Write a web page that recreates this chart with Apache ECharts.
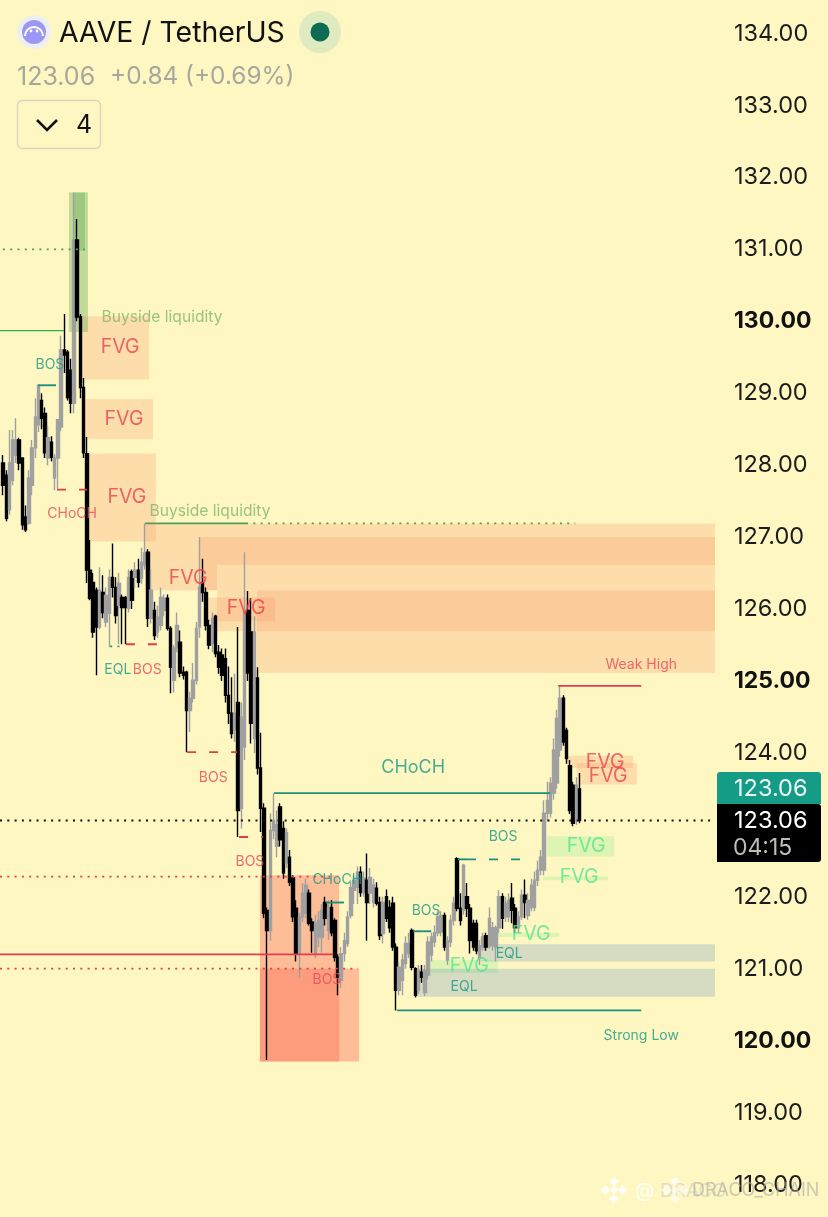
<!DOCTYPE html>
<html><head><meta charset="utf-8">
<style>html,body{margin:0;padding:0;background:#FEF7C2}#c{width:828px;height:1217px}</style>
<script src="https://cdn.jsdelivr.net/npm/echarts@6/dist/echarts.min.js"></script>
</head><body><div id="c"></div>
<script>
// OHLC rows: open, close, low, high
const candles = [
[128.03,127.72,127.58,128.14],[127.86,127.26,127.22,127.93],[127.38,128.03,127.31,128.49],[127.79,128.35,127.72,128.49],[128.14,128.35,128.03,128.65],
[128.35,128.03,127.93,128.38],[128.10,127.17,127.10,128.11],[127.28,127.10,127.07,127.44],[127.19,127.82,127.17,127.93],[127.72,128.24,127.58,128.35],
[128.24,128.67,128.10,128.93],[128.56,129.11,128.46,129.11],[128.90,128.65,128.50,129.00],[128.72,128.17,128.10,128.80],[128.10,128.38,128.00,128.55],
[128.32,128.11,128.05,128.40],[127.82,128.10,127.65,128.15],[128.10,128.63,127.67,128.63],[128.53,129.60,128.47,129.80],[129.60,129.53,129.28,130.10],
[129.57,128.94,128.90,129.60],[129.32,128.86,128.72,129.48],[128.86,131.13,128.72,131.79],[131.13,130.06,130.00,131.42],[130.06,129.08,128.93,130.10],
[129.08,128.17,128.10,129.21],
[128.16,126.54,126.36,128.39],[126.54,126.15,126.12,126.96],[126.37,125.68,125.60,126.50],[126.26,125.75,125.08,126.30],[125.75,126.26,125.72,126.58],
[126.23,125.95,125.87,126.47],[125.82,126.19,125.75,126.30],[125.94,126.44,125.47,126.55],[126.44,126.30,126.16,126.91],[126.30,125.91,125.80,126.44],
[126.05,126.36,125.51,126.50],[126.16,126.02,125.51,126.20],[126.16,126.02,125.51,126.18],[126.01,126.44,125.95,126.55],[126.52,126.12,126.00,126.55],
[126.44,126.54,126.30,126.65],[126.54,126.37,126.30,126.70],[126.43,126.65,126.35,126.85],[126.61,126.78,126.55,127.19],[126.79,125.87,125.75,126.83],
[125.87,126.26,125.80,126.55],[125.98,125.63,125.57,126.10],[125.68,125.89,125.60,126.05],[125.77,126.16,125.70,126.30],[125.98,126.15,125.90,126.20],
[126.15,125.73,125.70,126.20],[125.73,125.19,124.83,125.76],[125.01,125.46,124.84,125.50],[125.46,125.77,125.40,125.95],[125.54,125.11,125.05,125.70],
[125.12,125.08,125.02,125.20],[125.12,124.59,124.01,125.14],[124.59,124.76,124.29,124.85],[124.76,125.01,124.70,125.25],[125.01,125.73,124.95,125.82],
[125.75,126.30,125.60,127.00],[126.37,126.23,126.10,126.70],[126.23,125.77,125.70,126.30],[125.77,125.50,125.44,125.85],[125.52,125.87,125.40,125.95],
[125.90,125.38,125.33,125.92],[125.40,125.19,125.10,125.50],[125.36,125.08,125.00,125.45],[125.31,124.80,124.70,125.45],[124.80,124.55,124.40,125.20],
[124.55,124.27,124.20,125.05],[124.32,124.55,124.15,125.10],[124.70,123.20,122.83,125.75],[123.23,124.50,122.95,124.70],[124.08,125.96,123.90,126.79],
[125.98,125.11,125.00,126.25],[125.68,124.41,124.13,126.15],[124.20,125.68,124.00,125.90],[125.04,123.79,123.70,125.19],[123.79,123.23,122.90,124.28],
[123.23,121.77,121.70,123.30],[121.81,121.53,119.73,121.85],[121.53,122.92,121.39,123.16],[122.92,123.06,122.80,123.44],[122.70,123.00,122.55,123.20],
[123.25,122.79,122.70,123.30],[122.95,122.33,122.25,123.05],[122.47,122.89,122.40,122.95],[122.55,122.20,122.15,122.65],[122.26,121.72,121.65,122.30],
[121.84,121.21,121.10,121.95],[121.21,121.72,120.87,121.78],[121.72,122.05,121.65,122.19],[121.77,122.16,121.70,122.25],[122.05,121.63,121.60,122.10],
[121.65,121.53,121.22,121.70],[121.21,121.63,121.15,121.75],[121.44,121.67,121.30,121.80],[121.44,121.81,121.22,121.90],[121.92,121.70,121.60,122.00],
[121.53,121.85,121.40,121.95],[121.85,121.50,121.45,121.95],[121.67,121.16,121.10,121.70],[121.16,120.88,120.63,121.20],[120.84,121.21,120.73,121.30],
[121.21,121.39,121.10,121.50],[121.35,121.72,121.30,121.80],[121.74,122.13,121.70,122.20],[122.09,122.23,121.90,122.30],[122.13,122.34,121.90,122.42],
[122.34,122.06,122.00,122.42],[122.06,122.26,122.00,122.35],[122.23,121.92,121.39,122.60],[122.05,122.27,121.90,122.40],[121.92,122.16,121.85,122.25],
[122.12,121.91,121.88,122.20],[121.92,121.46,121.40,122.00],[121.49,121.92,121.35,122.00],[122.00,121.70,121.65,122.10],[121.85,121.57,121.50,121.95],
[121.91,121.30,121.25,122.00],[121.30,120.70,120.42,121.35],[120.70,121.02,120.63,121.10],[120.84,121.12,120.63,121.20],[121.07,121.35,121.00,121.45],
[121.21,121.35,121.15,121.50],[121.53,121.02,120.98,121.56],
[121.00,120.63,120.60,121.02],[120.70,120.98,120.65,121.05],[120.95,120.88,120.80,121.05],[120.67,120.98,120.62,121.05],[120.91,121.37,120.85,121.45],
[121.19,121.44,121.10,121.50],[121.37,121.50,121.30,121.60],[121.50,121.72,121.45,121.80],[121.51,121.74,121.45,121.80],[121.74,121.30,121.25,121.78],
[121.12,121.39,121.05,121.45],[121.37,121.67,121.30,121.75],[121.67,121.91,121.60,122.00],[122.53,121.84,121.80,122.55],[121.84,121.67,121.60,122.05],
[121.81,122.44,121.75,122.46],[122.00,121.84,121.72,122.19],[121.84,121.39,121.21,121.90],[121.63,121.30,121.25,121.68],[121.63,121.25,121.20,121.68],
[121.14,121.32,121.05,121.40],[121.30,121.44,121.25,121.50],[121.46,121.30,121.25,121.50],[121.32,121.70,121.28,121.85],[121.32,121.57,121.25,121.65],
[121.30,121.57,121.10,121.60],[121.57,122.00,121.50,122.09],[122.00,121.70,121.55,122.05],[121.72,121.91,121.65,122.00],[121.72,121.95,121.65,122.05],
[121.98,121.81,121.63,122.19],[121.84,121.57,121.50,121.90],[121.57,121.72,121.50,121.80],[121.72,122.02,121.68,122.10],[122.02,121.92,121.70,122.24],
[121.74,121.95,121.68,122.05],[121.85,122.16,121.80,122.25],[121.85,122.23,121.80,122.35],[122.23,122.37,122.15,122.50],[122.37,122.55,122.30,122.65],
[122.37,123.16,122.30,123.34],[123.16,123.34,123.05,123.60],[123.16,123.58,123.10,123.66],[123.44,124.04,123.35,124.20],[123.58,124.48,123.50,124.60],
[124.04,124.76,123.95,124.93],[124.76,124.15,124.10,124.80],[124.31,123.92,123.85,124.35],[123.82,123.20,123.15,123.90],[123.55,123.02,122.98,123.60],
[123.06,123.55,123.00,123.66],[123.50,123.06,123.02,123.72]
];
const barCount = 222;
const priceTicks = [118,134];

// zones: first bar, last bar, top price, bottom price
const zonesSupply = [[24.7,45.8,130.07,129.19],[25.6,47,128.92,128.36],[26.5,47.9,128.16,126.94],[44.5,221.5,127.19,126.61],[61.6,221.5,127.0,126.26],[79.3,221.5,126.26,125.11],[66.9,221.5,126.26,125.69],[44.5,66.9,126.61,126.26],[64.1,84.9,126.16,125.83],[175.6,196.1,123.96,123.79],[178.6,197.3,123.86,123.56]];
const zonesDemand = [[80.2,104.8,122.3,119.71],[80.2,111,121.0,119.71]];
const zonesLiquidity = [[20.9,26.8,131.79,129.85],[22.2,25.9,131.79,130.98]];
const zonesBull = [[169.4,190.2,122.84,122.56],[168.2,188.3,122.28,122.23],[153.8,173.1,121.5,121.44],[133,154.2,121.12,120.94]];
const zonesEqual = [[148.9,221.5,121.34,121.1],[128.7,221.5,121.0,120.61]];

// lines: first bar, last bar, price
const solidGreen = [[-0.5,19.4,129.87]];
const dottedGreen = [[0.4,25.9,131.0],[75.9,178.1,127.19]];
const solidBuyside = [[44.5,75.9,127.19]];
const solidTeal = [[84.6,170.3,123.44],[122.8,198.6,120.42],[11.3,14.1,129.11],[100.7,103.5,121.92],[127.8,130.6,121.52],[141.7,144.5,122.52]];
const dashedTeal = [[14.1,18.1,129.11],[103.5,108.2,121.92],[130.6,135.5,121.52],[144.5,164.1,122.52]];
const dottedTeal = [[33.7,37.7,125.48]];
const solidRed = [[-0.5,102.9,121.2],[172.8,198.6,124.93]];
const dashedRed = [[17.2,26.5,127.66],[38.6,52.3,125.51],[57.6,73.1,124.01],[73.7,81.2,122.83]];
const dottedRed = [[-0.5,102,122.28],[-0.5,110.7,121.0]];
const dottedBlack = [[-0.5,221.5,123.06]];

// labels: bar, price, text
const labelsFvgRed = [[36.8,129.64,'FVG'],[38,128.64,'FVG'],[38.9,127.55,'FVG'],[57.9,126.43,'FVG'],[75.9,126.01,'FVG'],[187.4,123.87,'FVG'],[188.3,123.67,'FVG']];
const labelsFvgGreen = [[181.5,122.70,'FVG'],[179.3,122.27,'FVG'],[164.4,121.48,'FVG'],[145.2,121.03,'FVG']];
const labelsBuyside = [[49.8,130.06,'Buyside liquidity'],[64.7,127.36,'Buyside liquidity']];
const labelsTealSmall = [[15,129.40,'BOS'],[155.7,122.83,'BOS'],[131.8,121.81,'BOS'],[104.2,122.23,'CHoCH'],[36.1,125.16,'EQL'],[143.6,120.75,'EQL'],[157.6,121.21,'EQL'],[198.6,120.07,'Strong Low']];
const labelsRedSmall = [[21.9,127.33,'CHoCH'],[45.2,125.16,'BOS'],[65.7,123.66,'BOS'],[77.1,122.49,'BOS'],[101,120.84,'BOS'],[198.6,125.22,'Weak High']];
const labelsChoch = [[127.8,123.79,'CHoCH']];

const FONT = 'Inter, Roboto, sans-serif';
function zoneSeries(name, data, fill, z){
  return {name, type:'custom', xAxisIndex:1, yAxisIndex:0, z, silent:true, clip:false, data,
    encode:{x:[0,1], y:[2,3]},
    renderItem(p, api){
      const a = api.coord([api.value(0), api.value(2)]), b = api.coord([api.value(1), api.value(3)]);
      return {type:'rect', shape:{x:a[0], y:a[1], width:b[0]-a[0], height:b[1]-a[1]}, style:{fill}};
    }};
}
function lineSeries(name, data, stroke, width, dash){
  return {name, type:'custom', xAxisIndex:1, yAxisIndex:0, z:5, silent:true, clip:false, data,
    encode:{x:[0,1], y:2},
    renderItem(p, api){
      const a = api.coord([api.value(0), api.value(2)]), b = api.coord([api.value(1), api.value(2)]);
      return {type:'line', shape:{x1:a[0], y1:a[1], x2:b[0], y2:b[1]}, style:{stroke, lineWidth:width, lineDash:dash||null, fill:null}};
    }};
}
function labelSeries(name, data, color, size){
  return {name, type:'scatter', xAxisIndex:1, yAxisIndex:0, z:6, silent:true, symbolSize:0, data:data,
    label:{show:true, position:'inside', align:'center', verticalAlign:'middle', color, fontSize:size, fontFamily:FONT,
      formatter:(p)=>p.data[2]}};
}
function diamonds(cx, cy, s, fill, z){
  const d = (x,y,r)=>({type:'polygon', z, silent:true, shape:{points:[[x,y-r],[x+r,y],[x,y+r],[x-r,y]]}, style:{fill}});
  return [d(cx,cy,s*0.3),d(cx,cy-s*0.62,s*0.36),d(cx,cy+s*0.62,s*0.36),d(cx-s*0.62,cy,s*0.36),d(cx+s*0.62,cy,s*0.36)];
}
const txt = (x,y,text,size,fill,extra)=>({type:'text', z:50, x, y, silent:true, style:Object.assign({text, fontSize:size, fontFamily:FONT, fill, verticalAlign:'middle', align:'left'}, extra||{})});

const chart = echarts.init(document.getElementById('c'), null, {width:828, height:1217});
chart.setOption({
  animation:false,
  backgroundColor:'#FEF7C2',
  grid:{left:1.45, width:715, top:33.5, height:1151, containLabel:false},
  xAxis:[
    {type:'category', show:false, data:Array.from({length:barCount},(_, i)=>String(i))},
    {type:'value', show:false, min:-0.05, max:barCount-0.05, splitLine:{show:false}}
  ],
  yAxis:[{type:'value', position:'right', min:priceTicks[0], max:priceTicks[1], interval:1,
    axisLine:{show:false}, axisTick:{show:false}, splitLine:{show:false},
    axisLabel:{margin:17.5, fontFamily:FONT, fontSize:23.5, color:'#1c1c1c',
      formatter:(v)=> (v===130||v===125||v===120) ? '{b|'+v.toFixed(2)+'}' : v.toFixed(2),
      rich:{b:{fontFamily:FONT, fontSize:23, fontWeight:'bold', color:'#111'}}}}],
  series:[
    zoneSeries('supply', zonesSupply, 'rgba(250,150,110,0.26)', 1),
    zoneSeries('demand', zonesDemand, 'rgba(252,110,90,0.42)', 1),
    zoneSeries('liquidity', zonesLiquidity, 'rgba(90,170,80,0.36)', 1),
    zoneSeries('bull', zonesBull, 'rgba(130,235,140,0.26)', 1),
    zoneSeries('equal', zonesEqual, 'rgba(110,150,190,0.28)', 1),
    {name:'AAVE/USDT', type:'candlestick', xAxisIndex:0, yAxisIndex:0, z:3, silent:true, barWidth:3, data:candles,
      itemStyle:{color:'#A0A0A0', color0:'#000', borderColor:'#A0A0A0', borderColor0:'#000', borderWidth:1.4}},
    lineSeries('l1', solidGreen, '#2DB14A', 1.4),
    lineSeries('l2', dottedGreen, '#4F9F5B', 1.8, [2,5.3]),
    lineSeries('l3', solidBuyside, '#4F9F5B', 1.7),
    lineSeries('l4', solidTeal, '#1D8F7A', 1.9),
    lineSeries('l5', dashedTeal, '#1D8F7A', 1.9, [9,13]),
    lineSeries('l6', dottedTeal, '#1D9F8A', 1.8, [2,5.3]),
    lineSeries('l7', solidRed, '#E23D4E', 1.7),
    lineSeries('l8', dashedRed, '#E23D4E', 1.9, [9,13]),
    lineSeries('l9', dottedRed, '#E23D4E', 1.8, [2,5.3]),
    lineSeries('l10', dottedBlack, '#111', 1.9, [2,5.3]),
    labelSeries('t1', labelsFvgRed, '#E8414F', 19.5),
    labelSeries('t2', labelsFvgGreen, '#55E492', 19.5),
    labelSeries('t3', labelsBuyside, '#82B56E', 15.6),
    labelSeries('t4', labelsTealSmall, '#179A88', 14),
    labelSeries('t5', labelsRedSmall, '#E8485A', 14),
    labelSeries('t6', labelsChoch, '#179A88', 18)
  ],
  graphic:[
    {type:'circle', z:50, silent:true, shape:{cx:34,cy:32,r:17}, style:{fill:'#EDF0F2'}},
    {type:'circle', z:51, silent:true, shape:{cx:34,cy:32,r:12}, style:{fill:'#9C97F4'}},
    {type:'arc', z:52, silent:true, shape:{cx:34,cy:36,r:9,startAngle:Math.PI,endAngle:0}, style:{stroke:'#fff',lineWidth:2,fill:null}},
    {type:'circle', z:52, silent:true, shape:{cx:31,cy:31,r:1.4}, style:{fill:'#fff'}},
    {type:'circle', z:52, silent:true, shape:{cx:37,cy:31,r:1.4}, style:{fill:'#fff'}},
    txt(59,33.5,'AAVE / TetherUS',28.4,'#111'),
    {type:'circle', z:50, silent:true, shape:{cx:320,cy:32,r:21}, style:{fill:'#DDEBBE'}},
    {type:'circle', z:51, silent:true, shape:{cx:320,cy:32,r:9.5}, style:{fill:'#0E6A55'}},
    txt(17,77,'123.06',25,'#A8A79E'),
    txt(110,77,'+0.84 (+0.69%)',24.4,'#A8A79E'),
    {type:'rect', z:50, silent:true, shape:{x:17.5,y:100.5,width:83,height:48,r:5}, style:{fill:'none',stroke:'#D9D7BE',lineWidth:1.5}},
    {type:'polyline', z:50, silent:true, shape:{points:[[37,120],[47,130],[57,120]]}, style:{fill:'none',stroke:'#111',lineWidth:2.6}},
    txt(76,125,'4',25,'#111'),
    {type:'rect', z:50, silent:true, shape:{x:717,y:772,width:104,height:32,r:[3,3,0,0]}, style:{fill:'#159C86'}},
    {type:'rect', z:50, silent:true, shape:{x:717,y:804,width:104,height:58,r:[0,3,3,0]}, style:{fill:'#000'}},
    txt(734,789,'123.06',23.5,'#EAF7F2'),
    txt(734,821,'123.06',23.5,'#fff'),
    txt(733,848,'04:15',23,'#BDBDB5'),
    ...diamonds(614,1190,14,'rgba(255,255,255,0.8)',60),
    ...diamonds(675,1190,14,'rgba(255,255,255,0.65)',60),
    txt(635,1191,'@',20,'rgba(255,255,255,0.9)'),
    txt(660,1191,'DRACO',19,'rgba(205,205,195,0.6)'),
    txt(692,1191,'DRACO_CHAIN',18,'rgba(175,175,165,0.65)')
  ]
});
</script></body></html>
